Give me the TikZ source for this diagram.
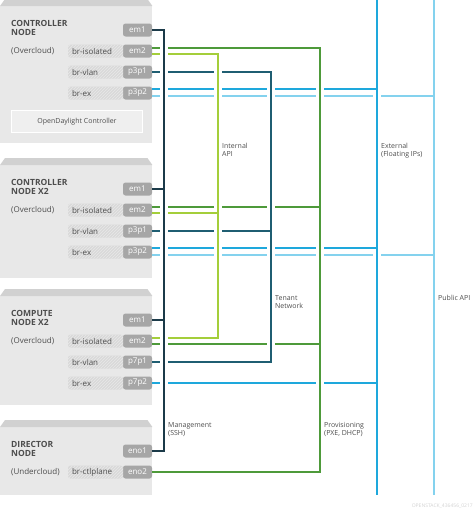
\documentclass[tikz,border=0pt]{standalone}
\usepackage{fontspec}
\setmainfont{Open Sans}
\usepackage{tikz}
\usetikzlibrary{shapes,arrows,positioning,calc,patterns}
\definecolor{boxgray}{HTML}{E8E8E8}
\definecolor{bevelgray}{HTML}{D1D1D1}
\definecolor{portgray}{HTML}{A6A6A6}
\definecolor{hatchgray}{HTML}{D9D9D9}
\definecolor{odlgray}{HTML}{EFEFEF}
\definecolor{txtgray}{HTML}{4D4D4D}
\definecolor{wmgray}{HTML}{D2D2D2}
\definecolor{mgmtcol}{HTML}{1B3A49}
\definecolor{provcol}{HTML}{4E9A3A}
\definecolor{iapicol}{HTML}{A4CE3A}
\definecolor{tencol}{HTML}{1F5E72}
\definecolor{extcol}{HTML}{1EA8DC}
\definecolor{pubcol}{HTML}{84D2EE}
\tikzstyle{host} = [rectangle, fill=boxgray, anchor=north west, minimum width=152pt, inner sep=0pt]
\tikzstyle{bevel} = [fill=bevelgray]
\tikzstyle{port} = [rectangle, fill=portgray, text=white, rounded corners=2.5pt,
    minimum width=29pt, minimum height=13pt, inner sep=0pt, font=\fontsize{8}{9}\selectfont]
\tikzstyle{bridge} = [rectangle, preaction={fill=hatchgray}, pattern=north east lines,
    pattern color=boxgray, rounded corners=2.5pt, minimum width=55pt, minimum height=13pt,
    text width=47pt, inner xsep=4pt, inner ysep=0pt, align=left, text=txtgray,
    font=\fontsize{8}{9}\selectfont]
\tikzstyle{title} = [anchor=north west, inner sep=0pt, align=left, text=txtgray,
    font=\bfseries\fontsize{8.5}{9}\selectfont]
\tikzstyle{sub} = [anchor=west, inner sep=0pt, text=txtgray, font=\fontsize{8}{9}\selectfont]
\tikzstyle{odl} = [rectangle, fill=odlgray, draw=white, line width=1.2pt, minimum width=131pt,
    minimum height=22pt, text=txtgray, font=\fontsize{7}{8}\selectfont]
\tikzstyle{netlabel} = [anchor=north west, inner sep=0pt, align=left, text=txtgray,
    font=\fontsize{7}{8}\selectfont]
\tikzstyle{wire} = [draw, line width=1.7pt]
\tikzstyle{halo} = [draw=white, line width=8pt]
\begin{document}
\begin{tikzpicture}[x=1pt, y=-1pt, node distance=21pt]
	\clip (0,0) rectangle (474,514);
	% Host boxes
	\node [host, minimum height=137pt] (ctrlA) at (0,6) {};
	\node [host, minimum height=113pt] (ctrlB) at (0,165) {};
	\node [host, minimum height=109pt] (comp) at (0,296) {};
	\node [host, minimum height=68pt] (dir) at (0,427) {};
	\foreach \b in {ctrlA,ctrlB,comp,dir}
		\fill [bevel] (\b.north west) -- ++(5,-7) -- ([shift={(-5pt,7pt)}]\b.north east) -- (\b.north east) -- cycle;
	\coordinate (lm) at (11,0);

	% Controller node
	\node [title] (ctrlAttl) at (11,20) {CONTROLLER\\NODE};
	\node [port] (c1em1) at (137.5,30) {em1};
	\node [port, below of=c1em1] (c1em2) {em2};
	\node [port, below of=c1em2] (c1p3p1) {p3p1};
	\node [port, below of=c1p3p1] (c1p3p2) {p3p2};
	\node [bridge, left of=c1em2, node distance=42pt] (c1briso) {br-isolated};
	\node [bridge, left of=c1p3p1, node distance=42pt] (c1brvlan) {br-vlan};
	\node [bridge, left of=c1p3p2, node distance=42pt] (c1brex) {br-ex};
	\node [sub] (ctrlAcld) at (lm |- c1em2) {(Overcloud)};
	\node [odl] (odl) at (77,121.5) {OpenDaylight Controller};

	% Controller node x2
	\node [title] (ctrlBttl) at (11,179) {CONTROLLER\\NODE X2};
	\node [port] (c2em1) at (137.5,189) {em1};
	\node [port, below of=c2em1] (c2em2) {em2};
	\node [port, below of=c2em2] (c2p3p1) {p3p1};
	\node [port, below of=c2p3p1] (c2p3p2) {p3p2};
	\node [bridge, left of=c2em2, node distance=42pt] (c2briso) {br-isolated};
	\node [bridge, left of=c2p3p1, node distance=42pt] (c2brvlan) {br-vlan};
	\node [bridge, left of=c2p3p2, node distance=42pt] (c2brex) {br-ex};
	\node [sub] (ctrlBcld) at (lm |- c2em2) {(Overcloud)};

	% Compute node x2
	\node [title] (compttl) at (11,310) {COMPUTE\\NODE X2};
	\node [port] (k3em1) at (137.5,320) {em1};
	\node [port, below of=k3em1] (k3em2) {em2};
	\node [port, below of=k3em2] (k3p7p1) {p7p1};
	\node [port, below of=k3p7p1] (k3p7p2) {p7p2};
	\node [bridge, left of=k3em2, node distance=42pt] (k3briso) {br-isolated};
	\node [bridge, left of=k3p7p1, node distance=42pt] (k3brvlan) {br-vlan};
	\node [bridge, left of=k3p7p2, node distance=42pt] (k3brex) {br-ex};
	\node [sub] (compcld) at (lm |- k3em2) {(Overcloud)};

	% Director node
	\node [title] (dirttl) at (11,441) {DIRECTOR\\NODE};
	\node [port] (d4eno1) at (137.5,451) {eno1};
	\node [port, below of=d4eno1] (d4eno2) {eno2};
	\node [bridge, left of=d4eno2, node distance=42pt] (d4brctl) {br-ctlplane};
	\node [sub] (dircld) at (lm |- d4eno2) {(Undercloud)};

	% Line ends beside the ports
	\coordinate (c1em2g) at ($(c1em2.east)+(0,-3)$);
	\coordinate (c1em2l) at ($(c1em2.east)+(0,3)$);
	\coordinate (c1extp) at ($(c1p3p2.east)+(0,-4)$);
	\coordinate (c1pubp) at ($(c1p3p2.east)+(0,3)$);
	\coordinate (c2em2g) at ($(c2em2.east)+(0,-3)$);
	\coordinate (c2em2l) at ($(c2em2.east)+(0,3)$);
	\coordinate (c2extp) at ($(c2p3p2.east)+(0,-4)$);
	\coordinate (c2pubp) at ($(c2p3p2.east)+(0,3)$);
	\coordinate (k3em2l) at ($(k3em2.east)+(0,-3)$);
	\coordinate (k3em2g) at ($(k3em2.east)+(0,3)$);

	% Networks
	\coordinate (mgmt) at (164,0);
	\coordinate (iapi) at (218,0);
	\coordinate (tenant) at (271,0);
	\coordinate (prov) at (320,0);
	\coordinate (ext) at (377,0);
	\coordinate (pub) at (434,0);
	\coordinate (floor) at (0,495);

	% Draw edges (right to left, so each bus breaks the lines it crosses)
	\draw [wire, pubcol] (pub) -- (pub |- floor);
	\foreach \p in {c1pubp,c2pubp}
		\draw [wire, pubcol] (\p) -- (\p -| pub);

	\draw [halo] (ext) -- (ext |- floor);
	\draw [wire, extcol] (ext) -- (ext |- floor);
	\foreach \p in {c1extp,c2extp,k3p7p2.east}
		\draw [wire, extcol] (\p) -- (\p -| ext);

	\draw [halo] (c1em2g -| prov) -- (d4eno2.east -| prov);
	\draw [wire, provcol] (c1em2g) -| (d4eno2.east -| prov) -- (d4eno2.east);
	\foreach \p in {c2em2g,k3em2g}
		\draw [wire, provcol] (\p) -- (\p -| prov);

	\draw [halo] (c1p3p1.east -| tenant) -- (k3p7p1.east -| tenant);
	\draw [wire, tencol] (c1p3p1.east) -| (k3p7p1.east -| tenant) -- (k3p7p1.east);
	\draw [wire, tencol] (c2p3p1.east) -- (c2p3p1.east -| tenant);

	\draw [halo] (c1em2l -| iapi) -- (k3em2l -| iapi);
	\draw [wire, iapicol] (c1em2l) -| (k3em2l -| iapi) -- (k3em2l);
	\draw [wire, iapicol] (c2em2l) -- (c2em2l -| iapi);

	\draw [halo] (c1em1.east -| mgmt) -- (d4eno1.east -| mgmt);
	\draw [wire, mgmtcol] (c1em1.east) -| (d4eno1.east -| mgmt) -- (d4eno1.east);
	\foreach \p in {c2em1.east,k3em1.east}
		\draw [wire, mgmtcol] (\p) -- (\p -| mgmt);

	% Network labels
	\node [netlabel] (iapilbl) at (222,143) {Internal\\API};
	\node [netlabel] (extlbl) at (381,143) {External\\(Floating IPs)};
	\node [netlabel] (tenlbl) at (275,295) {Tenant\\Network};
	\node [netlabel] (publbl) at (438,295) {Public API};
	\node [netlabel] (mgmtlbl) at (168,422) {Management\\(SSH)};
	\node [netlabel] (provlbl) at (324,422) {Provisioning\\(PXE, DHCP)};
	\node [anchor=east, inner sep=0pt, text=wmgray, font=\fontsize{5}{6}\selectfont] (wm) at (473,506) {OPENSTACK\_436456\_0217};
\end{tikzpicture}
\end{document}
